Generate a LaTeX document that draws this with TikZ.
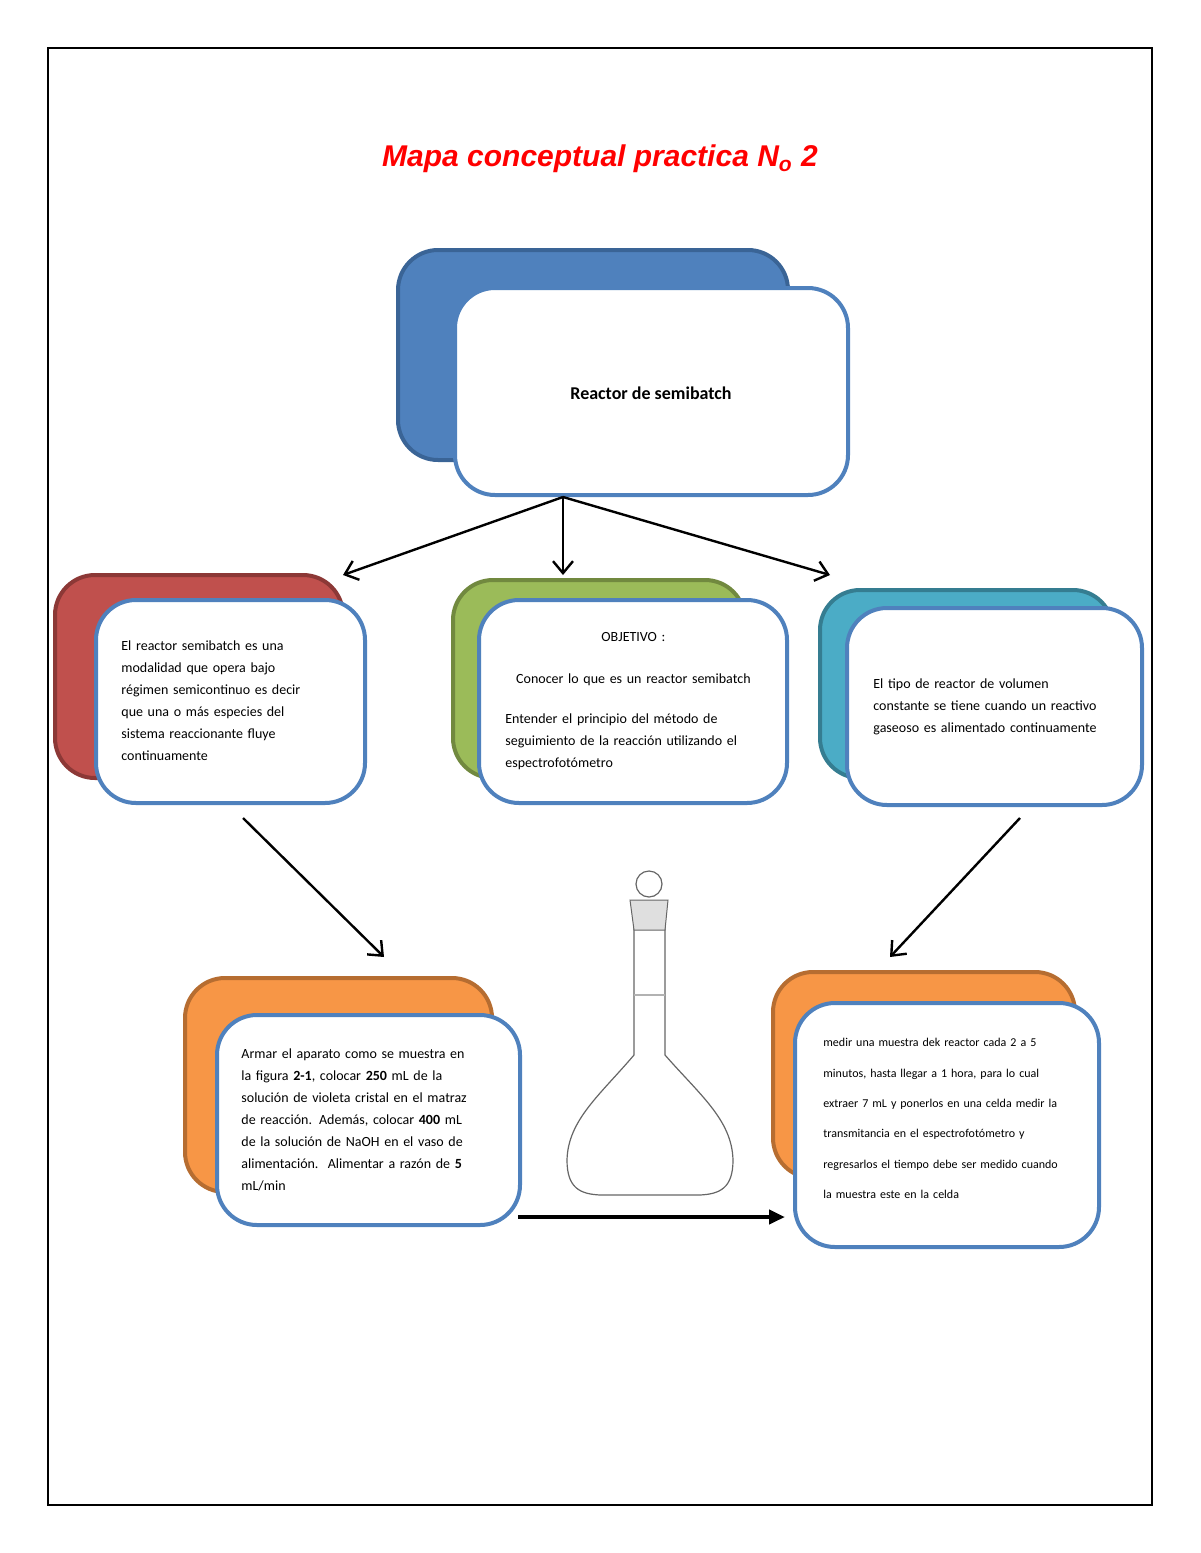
\documentclass[tikz,border=0pt]{standalone}
\usepackage{fontspec}
\setmainfont{Carlito}
\newfontfamily\titlefont{Liberation Sans}
\usetikzlibrary{arrows.meta}
\definecolor{bblue}{HTML}{4F81BD}
\definecolor{dblue}{HTML}{3A6496}
\definecolor{bred}{HTML}{C0504D}
\definecolor{dred}{HTML}{8C3836}
\definecolor{bgreen}{HTML}{9BBB59}
\definecolor{dgreen}{HTML}{71893F}
\definecolor{bcyan}{HTML}{4BACC6}
\definecolor{dcyan}{HTML}{357D91}
\definecolor{borange}{HTML}{F79646}
\definecolor{dorange}{HTML}{B66D31}
\newcommand{\jl}[1]{\makebox[\linewidth][s]{#1}}
\tikzset{
 back/.style={line width=2pt,rounded corners=20pt},
 front/.style={draw=bblue,fill=white,line width=2pt,rounded corners=20pt},
 conn/.style={line width=1.2pt,-{Straight Barb[length=6pt,width=10pt]}},
 txt/.style={text width=#1,align=left,font=\fontsize{7}{11}\selectfont,inner sep=0pt}
}
\begin{document}
\begin{tikzpicture}[x=0.5pt,y=-0.5pt]
\useasboundingbox (0,0) rectangle (1200,1553);
\draw[line width=1pt] (48,48) rectangle (1152,1505);
\node[font=\titlefont\bfseries\itshape\fontsize{15}{18}\selectfont,text=red] (title) at (600,159) {Mapa conceptual practica N\textsubscript{o} 2};
% top
\draw[back,fill=bblue,draw=dblue] (398,250) rectangle (788,460);
\draw[front] (455,288) rectangle (848,495);
\node[font=\fontsize{9}{11}\selectfont\bfseries] (top) at (651,393) {Reactor de semibatch};
\coordinate (tb) at (563,497);
% left red
\draw[back,fill=bred,draw=dred] (55,575) rectangle (343,778);
\draw[front] (96,600) rectangle (365,803);
\node[txt=110pt,anchor=north west] (left) at (121,640) {\jl{El reactor semibatch es una}\\ \jl{modalidad que opera bajo}\\ \jl{régimen semicontinuo es decir}\\ \jl{que una o más especies del}\\ \jl{sistema reaccionante fluye}\\ continuamente};
% green
\draw[back,fill=bgreen,draw=dgreen] (453,580) rectangle (745,778);
\draw[front] (479,600) rectangle (787,803);
\node[txt=128pt,anchor=north west] (mid) at (505,632) {\makebox[\linewidth]{OBJETIVO :}\\[10pt] \makebox[\linewidth]{Conocer lo que es un reactor semibatch}\\[9pt] \jl{Entender el principio del método de}\\ \jl{seguimiento de la reacción utilizando el}\\ espectrofotómetro};
% cyan
\draw[back,fill=bcyan,draw=dcyan] (820,590) rectangle (1113,778);
\draw[front] (847,608) rectangle (1142,805);
\node[txt=122pt,anchor=north west] (right) at (873,678) {\jl{El tipo de reactor de volumen}\\ \jl{constante se tiene cuando un reactivo}\\ gaseoso es alimentado continuamente};
% orange left
\draw[back,fill=borange,draw=dorange] (185,978) rectangle (492,1192);
\draw[front] (217,1015) rectangle (520,1225);
\node[txt=127pt,anchor=north west] (bl) at (241,1048) {\jl{Armar el aparato como se muestra en}\\ \jl{la figura \textbf{2-1}, colocar \textbf{250} mL de la}\\ \jl{solución de violeta cristal en el matraz}\\ \jl{de reacción. Además, colocar \textbf{400} mL}\\ \jl{de la solución de NaOH en el vaso de}\\ \jl{alimentación.\ \ Alimentar a razón de \textbf{5}}\\ mL/min};
% orange right
\draw[back,fill=borange,draw=dorange] (773,972) rectangle (1075,1178);
\draw[front] (795,1003) rectangle (1099,1247);
\node[txt=124pt,anchor=north west,font=\fontsize{6}{15.2}\selectfont] (br) at (823,1038) {\jl{medir una muestra dek reactor cada 2 a 5}\\ \jl{minutos, hasta llegar a 1 hora, para lo cual}\\ \jl{extraer 7 mL y ponerlos en una celda medir la}\\ \jl{transmitancia en el espectrofotómetro y}\\ \jl{regresarlos el tiempo debe ser medido cuando}\\ la muestra este en la celda};
% arrows
\coordinate (a1) at (343,575);
\coordinate (a2) at (563,575);
\coordinate (a3) at (830,575);
\draw[conn] (tb) -- (a1);
\draw[conn] (tb) -- (a2);
\draw[conn] (tb) -- (a3);
\coordinate (l1) at (243,818); \coordinate (l2) at (384,957);
\coordinate (r1) at (1020,818); \coordinate (r2) at (890,957);
\draw[conn] (l1) -- (l2);
\draw[conn] (r1) -- (r2);
\coordinate (h1) at (518,1217); \coordinate (h2) at (785,1217);
\draw[line width=2.2pt,-{Triangle[length=8pt,width=7pt]}] (h1) -- (h2);
% flask
\draw[gray!80!black,fill=white,line width=0.6pt] (634,905) -- (634,1055) .. controls (600,1095) and (568,1120) .. (567,1160) .. controls (567,1188) and (580,1194) .. (600,1195) -- (700,1195) .. controls (720,1194) and (733,1188) .. (733,1160) .. controls (732,1120) and (700,1095) .. (665,1055) -- (665,905);
\draw[gray!60,line width=0.6pt] (634,995) -- (665,995);
\draw[gray!80!black,fill=gray!25,line width=0.5pt] (630,900) -- (668,900) -- (665,930) -- (634,930) -- cycle;
\draw[gray!80!black,fill=white,line width=0.6pt] (649,884) circle[radius=13];
\end{tikzpicture}
\end{document}
